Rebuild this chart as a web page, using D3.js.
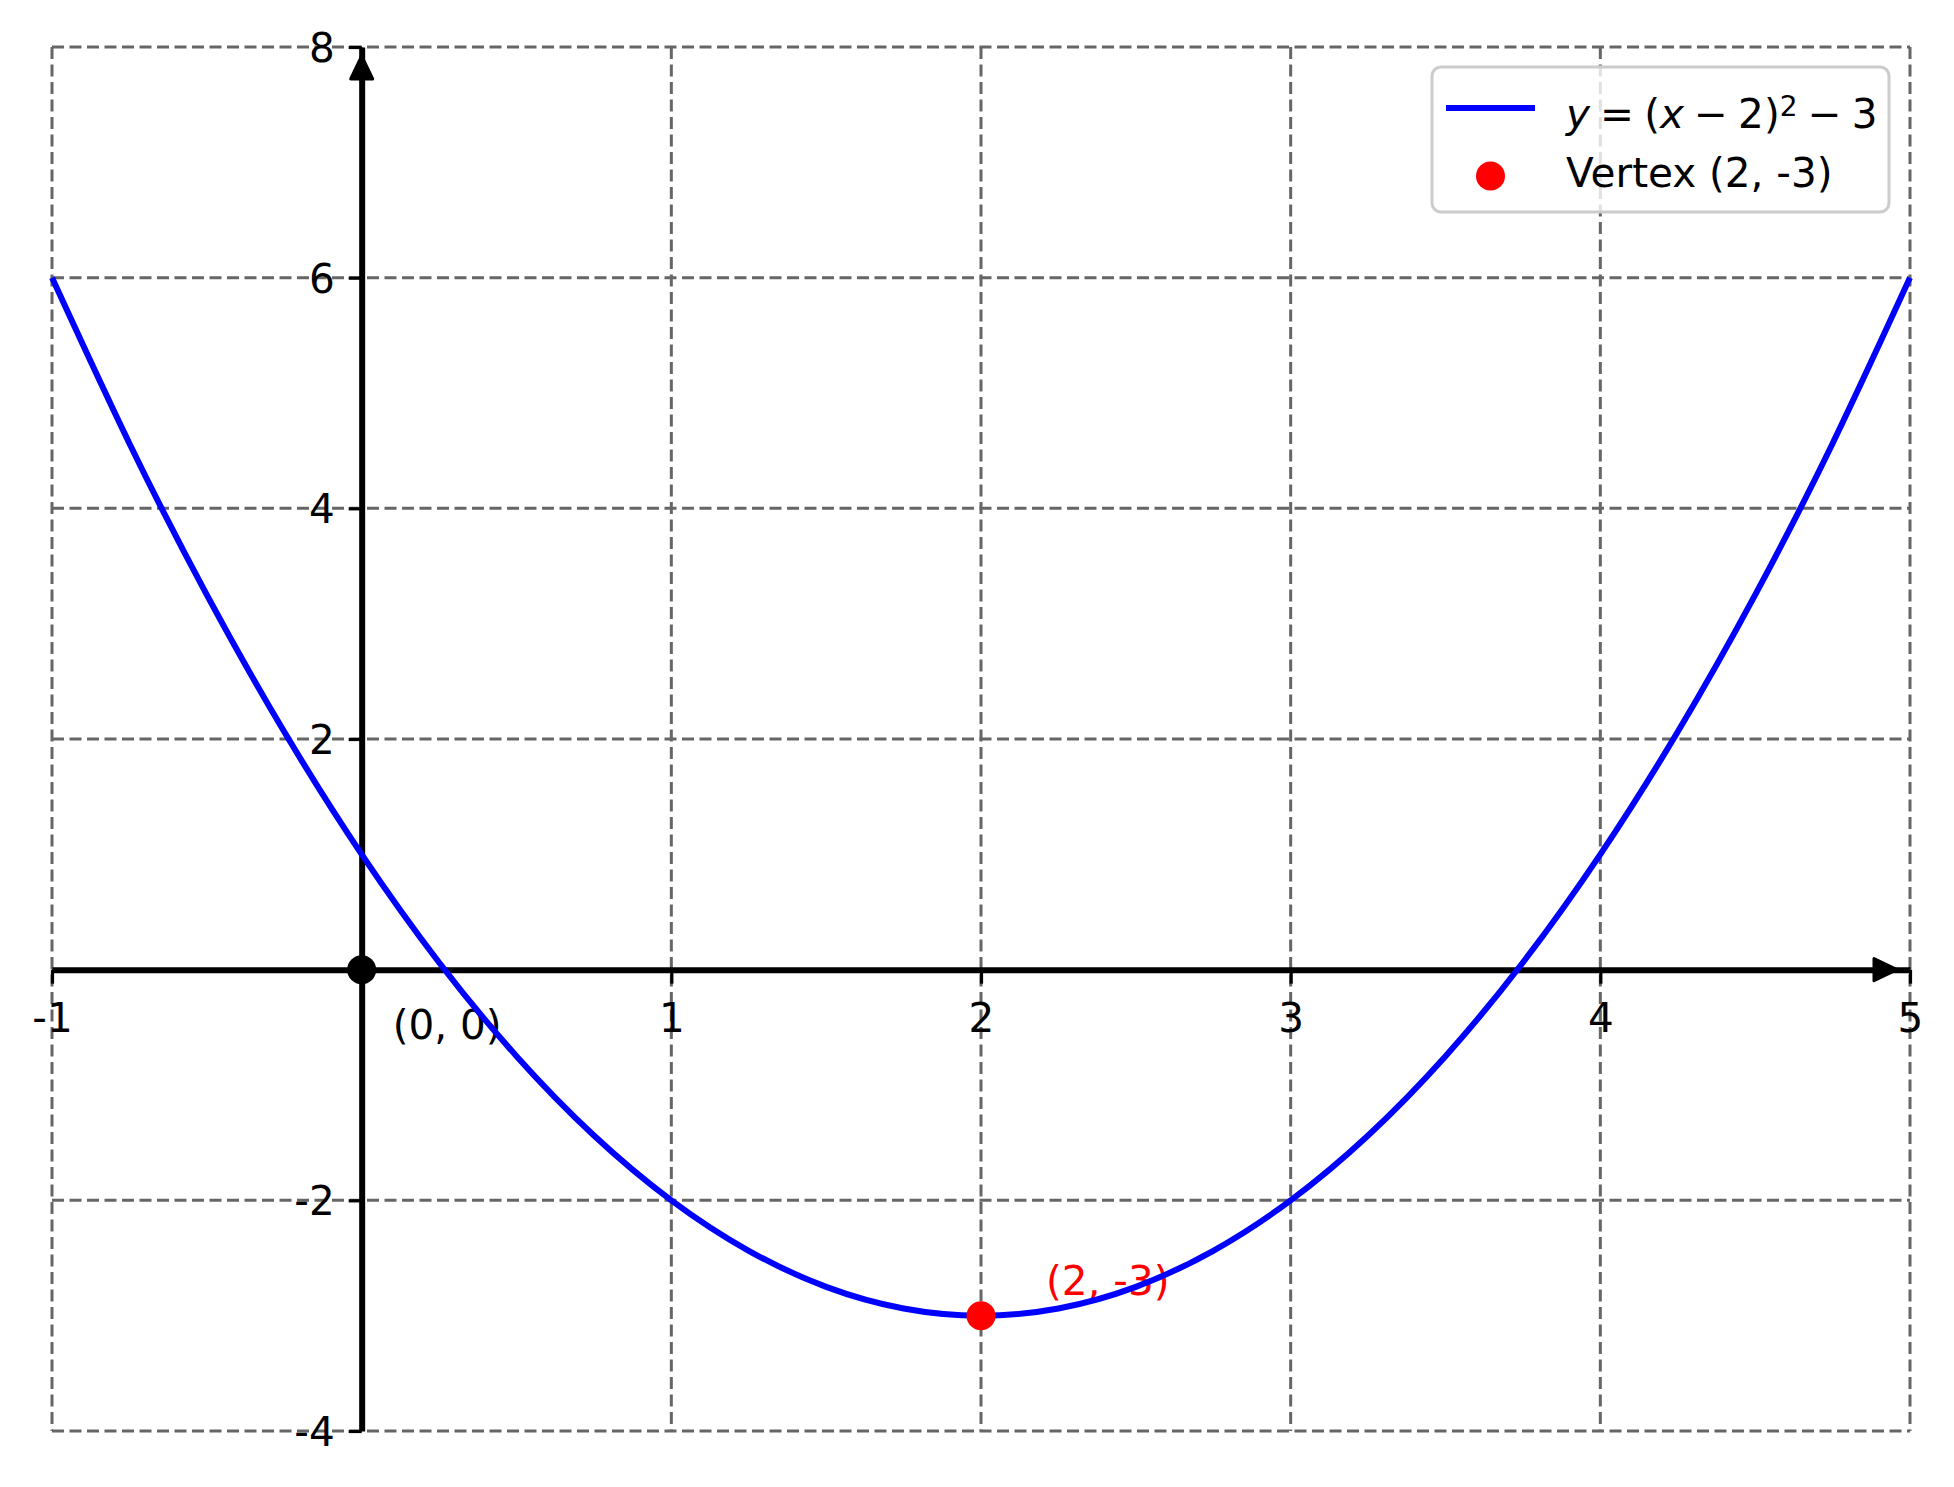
<!DOCTYPE html>
<html>
<head>
<meta charset="utf-8">
<script src="https://cdn.jsdelivr.net/npm/d3@7"></script>
<style>
  html, body { margin: 0; padding: 0; background: #ffffff; }
  svg { display: block; font-family: "DejaVu Sans", sans-serif; }
</style>
</head>
<body>
<svg id="chart" width="1954" height="1487"></svg>
<script>
// ---- data ----
const curveX = [-1, -0.75, -0.5, -0.25, 0, 0.25, 0.5, 0.75, 1, 1.25, 1.5, 1.75, 2,
                2.25, 2.5, 2.75, 3, 3.25, 3.5, 3.75, 4, 4.25, 4.5, 4.75, 5];
const curveY = [6, 4.5625, 3.25, 2.0625, 1, 0.0625, -0.75, -1.4375, -2, -2.4375, -2.75, -2.9375, -3,
                -2.9375, -2.75, -2.4375, -2, -1.4375, -0.75, 0.0625, 1, 2.0625, 3.25, 4.5625, 6];
const xTicks = [-1, 1, 2, 3, 4, 5];
const yTicks = [-4, -2, 2, 4, 6, 8];
const xGrid = [-1, 0, 1, 2, 3, 4, 5];
const yGrid = [-4, -2, 0, 2, 4, 6, 8];
const xDomain = [-1, 5];
const yDomain = [-4, 8];
const originPoint = {x: 0, y: 0, label: "(0, 0)"};
const vertexPoint = {x: 2, y: -3, label: "(2, -3)"};
const legendLabels = ["Vertex (2, -3)"];

// ---- scales ----
const svg = d3.select("#chart");
const x = d3.scaleLinear().domain(xDomain).range([52, 1910]);
const y = d3.scaleLinear().domain(yDomain).range([1431, 47]);
const FS = 40.5;

svg.append("rect").attr("width", 1954).attr("height", 1487).attr("fill", "#ffffff");

// ---- grid ----
const grid = svg.append("g").attr("stroke", "#666666").attr("stroke-width", 3)
  .attr("stroke-dasharray", "12,5.5").attr("fill", "none");
grid.selectAll("line.v").data(xGrid).join("line").attr("class", "v")
  .attr("x1", d => x(d)).attr("x2", d => x(d)).attr("y1", y(yDomain[1])).attr("y2", y(yDomain[0]));
grid.selectAll("line.h").data(yGrid).join("line").attr("class", "h")
  .attr("y1", d => y(d)).attr("y2", d => y(d)).attr("x1", x(xDomain[0])).attr("x2", x(xDomain[1]));

// ---- axes through origin ----
const fmt = d => String(d);
const yAxis = svg.append("g").attr("transform", `translate(${x(0)},0)`)
  .call(d3.axisLeft(y).tickValues(yTicks).tickFormat(fmt).tickSize(13).tickSizeOuter(0).tickPadding(14));
const xAxis = svg.append("g").attr("transform", `translate(0,${y(0)})`)
  .call(d3.axisBottom(x).tickValues(xTicks).tickFormat(fmt).tickSize(14).tickSizeOuter(0).tickPadding(20));
[yAxis, xAxis].forEach(g => {
  g.attr("font-family", "DejaVu Sans, sans-serif").attr("font-size", FS);
  g.select(".domain").attr("stroke", "#000").attr("stroke-width", 6);
  g.selectAll(".tick line").attr("stroke", "#000").attr("stroke-width", 3.2);
  g.selectAll(".tick text").attr("fill", "#000");
});
yAxis.selectAll(".tick text").attr("dy", "0.36em");

// arrowheads
const ax = x(xDomain[1]) - 13, ay = y(0);
svg.append("path")
  .attr("d", `M${ax},${ay} L${ax - 23},${ay - 11} L${ax - 23},${ay + 11} Z`)
  .attr("fill", "#000").attr("stroke", "#000").attr("stroke-width", 3).attr("stroke-linejoin", "round");
const bx = x(0), by = y(yDomain[1]) + 9;
svg.append("path")
  .attr("d", `M${bx},${by} L${bx - 11},${by + 23} L${bx + 11},${by + 23} Z`)
  .attr("fill", "#000").attr("stroke", "#000").attr("stroke-width", 3).attr("stroke-linejoin", "round");

// ---- annotations ----
svg.append("text").attr("x", x(0.1)).attr("y", y(-0.6))
  .attr("font-size", FS).attr("fill", "#000").text(originPoint.label);
svg.append("text").attr("x", x(2.21)).attr("y", y(-2.82))
  .attr("font-size", FS).attr("fill", "#ff0000").text(vertexPoint.label);

// ---- curve ----
const pts = curveX.map((d, i) => [d, curveY[i]]);
svg.append("path").datum(pts)
  .attr("d", d3.line().x(d => x(d[0])).y(d => y(d[1])).curve(d3.curveNatural))
  .attr("fill", "none").attr("stroke", "#0000ff").attr("stroke-width", 6);

// ---- points ----
svg.append("circle").attr("cx", x(originPoint.x)).attr("cy", y(originPoint.y)).attr("r", 14.5).attr("fill", "#000");
svg.append("circle").attr("cx", x(vertexPoint.x)).attr("cy", y(vertexPoint.y)).attr("r", 14.5).attr("fill", "#ff0000");

// ---- legend ----
const lg = svg.append("g");
lg.append("rect").attr("x", 1432).attr("y", 67).attr("width", 457).attr("height", 145).attr("rx", 9)
  .attr("fill", "#ffffff").attr("fill-opacity", 0.8).attr("stroke", "#cccccc").attr("stroke-width", 3);
lg.append("line").attr("x1", 1446).attr("x2", 1535).attr("y1", 108).attr("y2", 108)
  .attr("stroke", "#0000ff").attr("stroke-width", 6);
lg.append("circle").attr("cx", 1490.5).attr("cy", 176).attr("r", 14.5).attr("fill", "#ff0000");
const mt = lg.append("text").attr("x", 1566).attr("y", 128).attr("font-size", FS).attr("fill", "#000");
const sp = "\u2005";
mt.append("tspan").attr("font-style", "italic").text("y");
mt.append("tspan").text(sp + "=" + sp + "(");
mt.append("tspan").attr("font-style", "italic").text("x");
mt.append("tspan").text(sp + "\u2212" + sp + "2)");
mt.append("tspan").attr("font-size", 28).attr("dy", -12).text("2");
mt.append("tspan").attr("dy", 12).text(sp + "\u2212" + sp + "3");
lg.append("text").attr("x", 1566).attr("y", 187).attr("font-size", FS).attr("fill", "#000").text(legendLabels[0]);
</script>
</body>
</html>
